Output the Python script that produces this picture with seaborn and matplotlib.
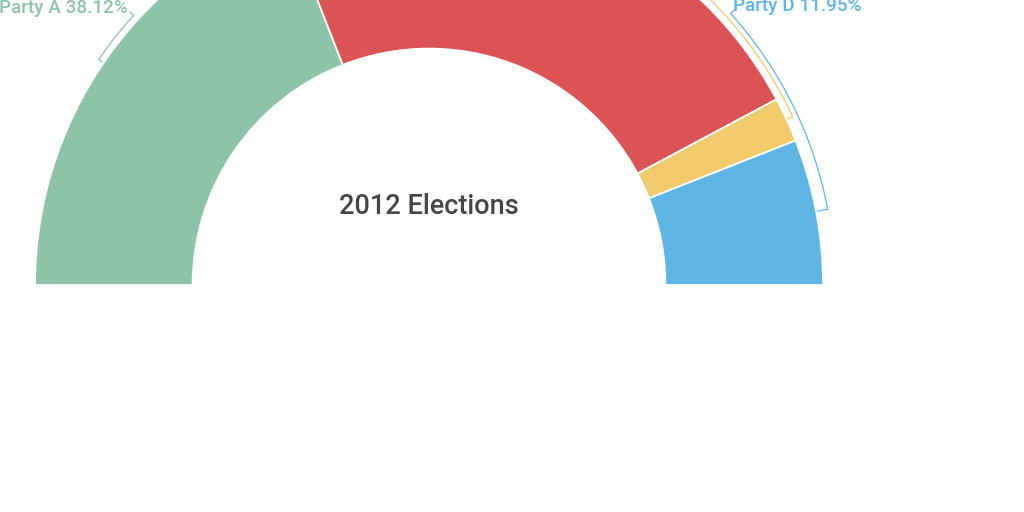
"""
Semi-circle donut: 2012 election results.
"""

import matplotlib
matplotlib.use("Agg")
import matplotlib.pyplot as plt
import numpy as np
import seaborn as sns

# ── Data ────────────────────────────────────────────────────────────────────
parties = ["Party A", "Party B", "Party C", "Party D"]
shares = [38.12, 46.26, 3.67, 11.95]
colors = ["#8dc3a7", "#dc5356", "#f0ca6b", "#5eb5e4"]
title = "2012 Elections"

# ── Layout (pixel geometry of the reference) ───────────────────────────────
W, H = 1024, 512
CX, CY, R = 429, 285, 394          # centre and outer radius in px
HOLE = 0.60                         # inner radius / outer radius
# label leader: bracket radius and angle (deg) where the bracket ends
leader_r = [1.015, 1.015, 1.017, 1.03]
leader_end = [137.6, 80.0, 52.0, 42.0]

sns.set_theme(style="white")
plt.rcParams["font.family"] = ["Roboto", "DejaVu Sans"]
palette = sns.color_palette(colors)

fig = plt.figure(figsize=(W / 100, H / 100), dpi=100)
ax = fig.add_axes([0, 0, 1, 1])

total = sum(shares)
wedges, _ = ax.pie(
    shares + [total],
    colors=list(palette) + ["none"],
    startangle=180,
    counterclock=False,
    radius=1.0,
    wedgeprops=dict(width=1 - HOLE, edgecolor="white", linewidth=1.3),
)
wedges[-1].set_visible(False)

# ── Leader brackets + labels ───────────────────────────────────────────────
start = 180.0
for name, val, col, r, end in zip(parties, shares, palette, leader_r, leader_end):
    span = 180.0 * val / total
    mid = start - span / 2
    start -= span
    th = np.radians(np.linspace(mid, end, 60))
    ax.plot(r * np.cos(th), r * np.sin(th), color=col, lw=0.9,
            solid_capstyle="butt")
    # inward tick at the slice midpoint
    m = np.radians(mid)
    ax.plot([1.004 * np.cos(m), r * np.cos(m)],
            [1.004 * np.sin(m), r * np.sin(m)], color=col, lw=0.9)
    # short outward connector at the label end
    e = np.radians(end)
    r2 = r + 0.014
    ax.plot([r * np.cos(e), r2 * np.cos(e)],
            [r * np.sin(e), r2 * np.sin(e)], color=col, lw=0.9)
    right = np.cos(e) >= 0
    ax.text(r2 * np.cos(e) + (-0.004 if right else -0.006), r2 * np.sin(e) - 0.003,
            f"{name} {val:.2f}%", color=col, fontsize=13.6, fontweight="medium",
            ha="left" if right else "right", va="baseline")

ax.text(0, (CY - 207) / R, title, ha="center", va="center",
        fontsize=19.5, fontweight="medium", color="#454545")

ax.set_aspect("equal")
ax.set_xlim(-CX / R, (W - CX) / R)
ax.set_ylim(-(H - CY) / R, CY / R)
ax.axis("off")

fig.savefig("out.png", dpi=100, facecolor="white")
plt.close(fig)
